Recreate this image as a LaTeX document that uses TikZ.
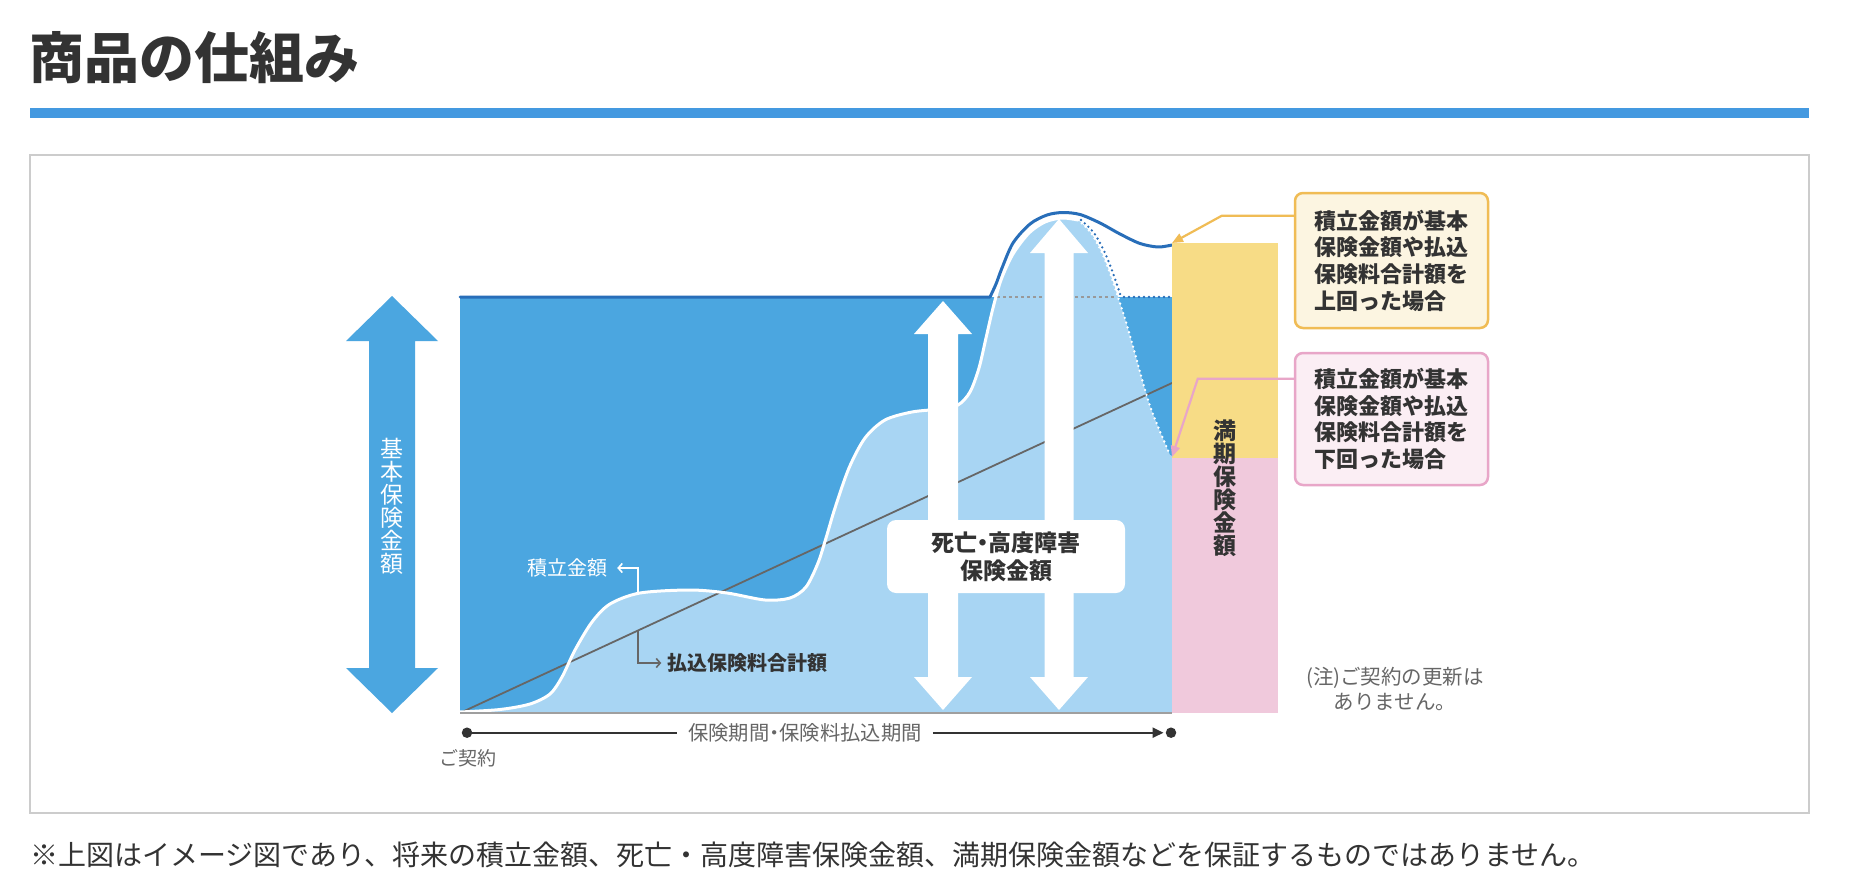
\documentclass[tikz,border=0pt]{standalone}
\usepackage{fontspec}
\setmainfont{Noto Sans CJK JP}
\usetikzlibrary{arrows.meta}
\definecolor{txt}{HTML}{333333}
\definecolor{barblue}{HTML}{4499E0}
\definecolor{boxgray}{HTML}{CCCCCC}
\definecolor{midblue}{HTML}{4BA6E0}
\definecolor{lightblue}{HTML}{A8D5F3}
\definecolor{lineblue}{HTML}{286EB9}
\definecolor{payline}{HTML}{666666}
\definecolor{baryellow}{HTML}{F7DC86}
\definecolor{barpink}{HTML}{F0C9DC}
\definecolor{ybord}{HTML}{F0BC55}
\definecolor{yfill}{HTML}{FCF5E1}
\definecolor{pbord}{HTML}{E8A6C8}
\definecolor{pfill}{HTML}{FBEEF4}
\definecolor{notegray}{HTML}{666666}
\newcommand\twoarrow[8]{%
\fill[#1] (#2,#3) -- ({#2+#7},#4) -- ({#2+#8},#4) -- ({#2+#8},#5) -- ({#2+#7},#5) -- (#2,#6)
 -- ({#2-#7},#5) -- ({#2-#8},#5) -- ({#2-#8},#4) -- ({#2-#7},#4) -- cycle;}
\newcommand\fsz[2]{\fontsize{#1}{#2}\selectfont}
\newcommand\tdot{\kern-0.25em・\kern-0.25em}
\tikzset{
  wcurve/.style={draw=white, line width=3pt, line cap=round, line join=round},
  bcurve/.style={draw=lineblue, line width=3pt, line cap=round, line join=round},
  wdots/.style={draw=white, line width=2.6pt, line cap=round, dash pattern=on 0pt off 5pt},
  bdots/.style={draw=lineblue, line width=2.6pt, line cap=round, dash pattern=on 0pt off 5pt},
  gdash/.style={draw=gray!80, line width=1.4pt, dash pattern=on 3pt off 3pt},
  callout/.style={line width=2.5pt, rounded corners=8pt, minimum width=193pt, align=left,
     text=txt, font=\fsz{22}{26.7}\bfseries, inner sep=0pt},
  vtext/.style={align=center, inner sep=0pt, font=\fsz{23}{23}},
  tline/.style={draw=txt, line width=2.4pt},
  dot/.style={circle, fill=txt, inner sep=0pt, minimum size=10.5pt},
}
\begin{document}
\begin{tikzpicture}[x=1pt,y=-1pt]
\useasboundingbox (0,0) rectangle (1866,880);
\fill[white] (0,0) rectangle (1866,880);
% title
\node[anchor=west, inner sep=0pt, text=txt, font=\fsz{55}{60}\bfseries] (title) at (29,58) {商品の仕組み};
\fill[barblue] (30,108) rectangle (1809,118);
\draw[boxgray, line width=2pt] (30,155) rectangle (1809,813);
% chart background
\fill[midblue] (460,297) rectangle (1172,713);
\fill[lightblue] plot[smooth,tension=0.5] coordinates {(460,712) (500,709.5) (530,704) (550,694) (562,677) (575,650) (592,622) (610,604) (640,593) (690,590) (727,593) (765,600) (790,598) (806,587) (818,563) (826,538) (835,508) (849,468) (865,438) (885,420) (912,412) (940,409) (958,405) (970,392) (979,368) (986,338) (993,308) (1001,280) (1013,254) (1029,233) (1045,222) (1062,218) (1078,220)}
  -- plot[smooth,tension=0.5] coordinates {(1078,220) (1091,233) (1102,253) (1111,276) (1118,297) (1126,322) (1134,350) (1150,406) (1170,455)}
  -- (1172,456) -- (1172,713) -- cycle;
% level lines
\draw[gdash] (997,297) -- (1114,297);
\draw[bdots] (1124,297) -- (1172,297);
% premium total line
\draw[payline, line width=1.8pt] (460,713) -- (1172,383);
% accumulated amount curve
\draw[wcurve] plot[smooth,tension=0.5] coordinates {(460,712) (500,709.5) (530,704) (550,694) (562,677) (575,650) (592,622) (610,604) (640,593) (690,590) (727,593) (765,600) (790,598) (806,587) (818,563) (826,538) (835,508) (849,468) (865,438) (885,420) (912,412) (940,409) (958,405) (970,392) (979,368) (986,338) (993,308) (1001,280) (1013,254) (1029,233) (1045,222) (1062,218) (1078,220)};
\begin{scope}
\clip (1070,150) rectangle (1200,294);
\draw[bdots, xshift=3pt] plot[smooth,tension=0.5] coordinates {(1078,220) (1091,233) (1102,253) (1111,276) (1118,297) (1126,322)};
\end{scope}
\draw[wdots] plot[smooth,tension=0.5] coordinates {(1078,220) (1091,233) (1102,253) (1111,276) (1118,297) (1126,322) (1134,350) (1150,406) (1170,455)};
\draw[bcurve] (460,297) -- (990,297) -- plot[smooth,tension=0.5] coordinates {(990,297) (996,284) (1002,268) (1013,243) (1030,224) (1047,215) (1063,212.5) (1080,214.5) (1100,223) (1120,234) (1140,243.5) (1158,247) (1172,245)};
\draw[gray!75, line width=1.6pt] (460,713) -- (1172,713);
% arrows
\twoarrow{midblue}{392}{296}{341}{668}{713}{46}{23}
\twoarrow{white}{943}{301}{334}{677}{710}{29}{15}
\twoarrow{white}{1059}{219}{253}{677}{710}{29}{14.5}
\node[vtext, text=white] (kihon) at (392,506) {基\\本\\保\\険\\金\\額};
% death benefit label
\node[fill=white, rounded corners=9pt, minimum width=238pt, minimum height=73pt, inner sep=0pt,
      align=center, text=txt, font=\fsz{23}{28}\bfseries] (death) at (1006,556.5) {死亡\tdot 高度障害\\保険金額};
% maturity bar
\fill[baryellow] (1172,243) rectangle (1278,458);
\fill[barpink] (1172,458) rectangle (1278,713);
\node[vtext, text=txt, font=\fsz{23}{23}\bfseries] (manki) at (1225,488) {満\\期\\保\\険\\金\\額};
% callouts
\node[callout, draw=ybord, fill=yfill, minimum height=135pt] (ybox) at (1391.5,260.5)
  {積立金額が基本\\保険金額や払込\\保険料合計額を\\上回った場合};
\node[callout, draw=pbord, fill=pfill, minimum height=132pt] (pbox) at (1391.5,419)
  {積立金額が基本\\保険金額や払込\\保険料合計額を\\下回った場合};
\coordinate (ytip) at (1172,243);
\coordinate (ptip) at (1172,457);
\draw[ybord, line width=2.2pt, -{Triangle[length=11pt,width=9pt]}] ([yshift=-24pt]ybox.north west) -- ++(-72,0) -- (ytip);
\draw[pbord, line width=2.2pt, -{Triangle[length=11pt,width=9pt]}] ([yshift=-27pt]pbox.north west) -- ++(-96,0) -- (ptip);
% inner labels
\node[inner sep=0pt, text=white, font=\fsz{20}{20}] (tsumi) at (567,568) {積立金額};
\coordinate (tsumiC) at (638,592);
\draw[white, line width=1.6pt, -{Straight Barb[length=4pt,width=9pt]}] (tsumiC) |- ([xshift=10pt]tsumi.east);
\node[inner sep=0pt, text=txt, font=\fsz{20}{20}\bfseries] (harai) at (747.5,663) {払込保険料合計額};
\coordinate (haraiC) at (638,630.5);
\draw[payline, line width=1.6pt, -{Straight Barb[length=4pt,width=9pt]}] (haraiC) |- ([xshift=-6pt]harai.west);
% timeline
\node[dot] (t0) at (467,732.7) {};
\node[dot] (t1) at (1171,732.7) {};
\node[inner xsep=11pt, inner ysep=0pt, text=notegray, font=\fsz{20.3}{21}] (period) at (805,732.7) {保険期間\tdot 保険料払込期間};
\draw[tline] (t0) -- (period.west);
\draw[tline, -{Triangle[length=11pt,width=10pt]}, shorten >=2pt] (period.east) -- (t1);
\node[inner sep=0pt, text=notegray, font=\fsz{19}{20}] (keiyaku) at (468,758) {ご契約};
% note
\node[align=center, inner sep=0pt, text=notegray, font=\fsz{20.5}{25}] (note) at (1395,688.5) {(注)ご契約の更新は\\ありません。};
% footnote
\node[anchor=west, inner sep=0pt, text=txt, font=\fsz{28}{30}] (foot) at (30,855) {※上図はイメージ図であり、将来の積立金額、死亡・高度障害保険金額、満期保険金額などを保証するものではありません。};
\end{tikzpicture}
\end{document}
